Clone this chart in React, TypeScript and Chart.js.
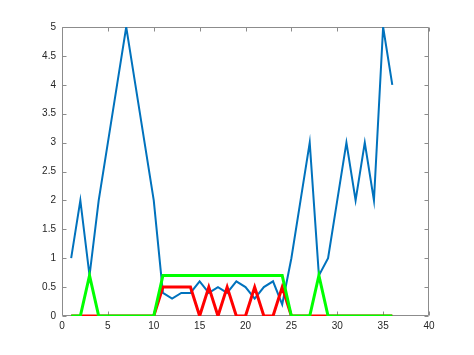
import React, { useEffect, useRef } from "react";
import { Chart, registerables } from "chart.js";

Chart.register(...registerables);

const xValues = [1, 2, 3, 4, 5, 6, 7, 8, 9, 10, 11, 12, 13, 14, 15, 16, 17, 18, 19, 20, 21, 22, 23, 24, 25, 26, 27, 28, 29, 30, 31, 32, 33, 34, 35, 36];
const blueValues = [1, 2, 0.7, 2, 3, 4, 5, 4, 3, 2, 0.4, 0.3, 0.4, 0.4, 0.6, 0.4, 0.5, 0.4, 0.6, 0.5, 0.3, 0.5, 0.6, 0.2, 1, 2, 3, 0.7, 1, 2, 3, 2, 3, 2, 5, 4];
const redValues = [0, 0, 0, 0, 0, 0, 0, 0, 0, 0, 0.5, 0.5, 0.5, 0.5, 0, 0.5, 0, 0.5, 0, 0, 0.5, 0, 0, 0.5, 0, 0, 0, 0, 0, 0, 0, 0, 0, 0, 0, 0];
const greenValues = [0, 0, 0.7, 0, 0, 0, 0, 0, 0, 0, 0.7, 0.7, 0.7, 0.7, 0.7, 0.7, 0.7, 0.7, 0.7, 0.7, 0.7, 0.7, 0.7, 0.7, 0, 0, 0, 0.7, 0, 0, 0, 0, 0, 0, 0, 0];
const xTicks = [0, 5, 10, 15, 20, 25, 30, 35, 40];
const yTicks = [0, 0.5, 1, 1.5, 2, 2.5, 3, 3.5, 4, 4.5, 5];

const toPoints = (ys: number[]) => xValues.map((x, i) => ({ x, y: ys[i] }));

const boxPlugin = {
  id: "matlabBox",
  beforeDatasetsDraw(chart: any) {
    const { ctx, chartArea, scales } = chart;
    const { left, right, top, bottom } = chartArea;
    ctx.save();
    ctx.strokeStyle = "#8c8c8c";
    ctx.lineWidth = 1;
    const L = Math.round(left) + 0.5;
    const R = Math.round(right) - 0.5;
    const T = Math.round(top) + 0.5;
    const B = Math.round(bottom) - 0.5;
    ctx.beginPath();
    ctx.rect(L, T, R - L, B - T);
    const tl = 4;
    xTicks.forEach((v) => {
      const px = Math.round(scales.x.getPixelForValue(v)) + 0.5;
      ctx.moveTo(px, B);
      ctx.lineTo(px, B - tl);
      ctx.moveTo(px, T);
      ctx.lineTo(px, T + tl);
    });
    yTicks.forEach((v) => {
      const py = Math.round(scales.y.getPixelForValue(v)) + 0.5;
      ctx.moveTo(L, py);
      ctx.lineTo(L + tl, py);
      ctx.moveTo(R, py);
      ctx.lineTo(R - tl, py);
    });
    ctx.stroke();
    ctx.restore();
  },
};

export default function App() {
  const ref = useRef<HTMLCanvasElement | null>(null);

  useEffect(() => {
    document.body.style.margin = "0";
    const canvas = ref.current;
    if (!canvas) return;
    const font = { family: "'Liberation Sans', Arial, Helvetica, sans-serif", size: 10 };
    const chart = new Chart(canvas, {
      type: "line",
      data: {
        datasets: [
          {
            label: "green",
            data: toPoints(greenValues),
            borderColor: "#00ff00",
            backgroundColor: "#00ff00",
            borderWidth: 3,
            pointRadius: 0,
            tension: 0,
          },
          {
            label: "red",
            data: toPoints(redValues),
            borderColor: "#ff0000",
            backgroundColor: "#ff0000",
            borderWidth: 3,
            pointRadius: 0,
            tension: 0,
          },
          {
            label: "blue",
            data: toPoints(blueValues),
            borderColor: "#0072bd",
            backgroundColor: "#0072bd",
            borderWidth: 2,
            pointRadius: 0,
            tension: 0,
          },
        ],
      },
      options: {
        responsive: false,
        animation: false,
        events: [],
        layout: { padding: { top: 27, right: 45, left: 0, bottom: 0 } },
        plugins: { legend: { display: false }, tooltip: { enabled: false } },
        scales: {
          x: {
            type: "linear",
            min: 0,
            max: 40,
            grid: { display: false, drawTicks: false },
            border: { display: false },
            afterBuildTicks: (s: any) => {
              s.ticks = xTicks.map((v) => ({ value: v }));
            },
            afterFit: (s: any) => {
              s.height = 39;
            },
            ticks: {
              color: "#262626",
              font,
              padding: 4,
              maxRotation: 0,
              autoSkip: false,
              callback: (v: any) => String(v),
            },
          },
          y: {
            type: "linear",
            min: 0,
            max: 5,
            grid: { display: false, drawTicks: false },
            border: { display: false },
            afterBuildTicks: (s: any) => {
              s.ticks = yTicks.map((v) => ({ value: v }));
            },
            afterFit: (s: any) => {
              s.width = 62;
            },
            ticks: {
              color: "#262626",
              font,
              padding: 6,
              autoSkip: false,
              callback: (v: any) => String(v),
            },
          },
        },
      },
      plugins: [boxPlugin],
    });
    return () => chart.destroy();
  }, []);

  return <canvas ref={ref} width={474} height={355} style={{ display: "block" }} />;
}
